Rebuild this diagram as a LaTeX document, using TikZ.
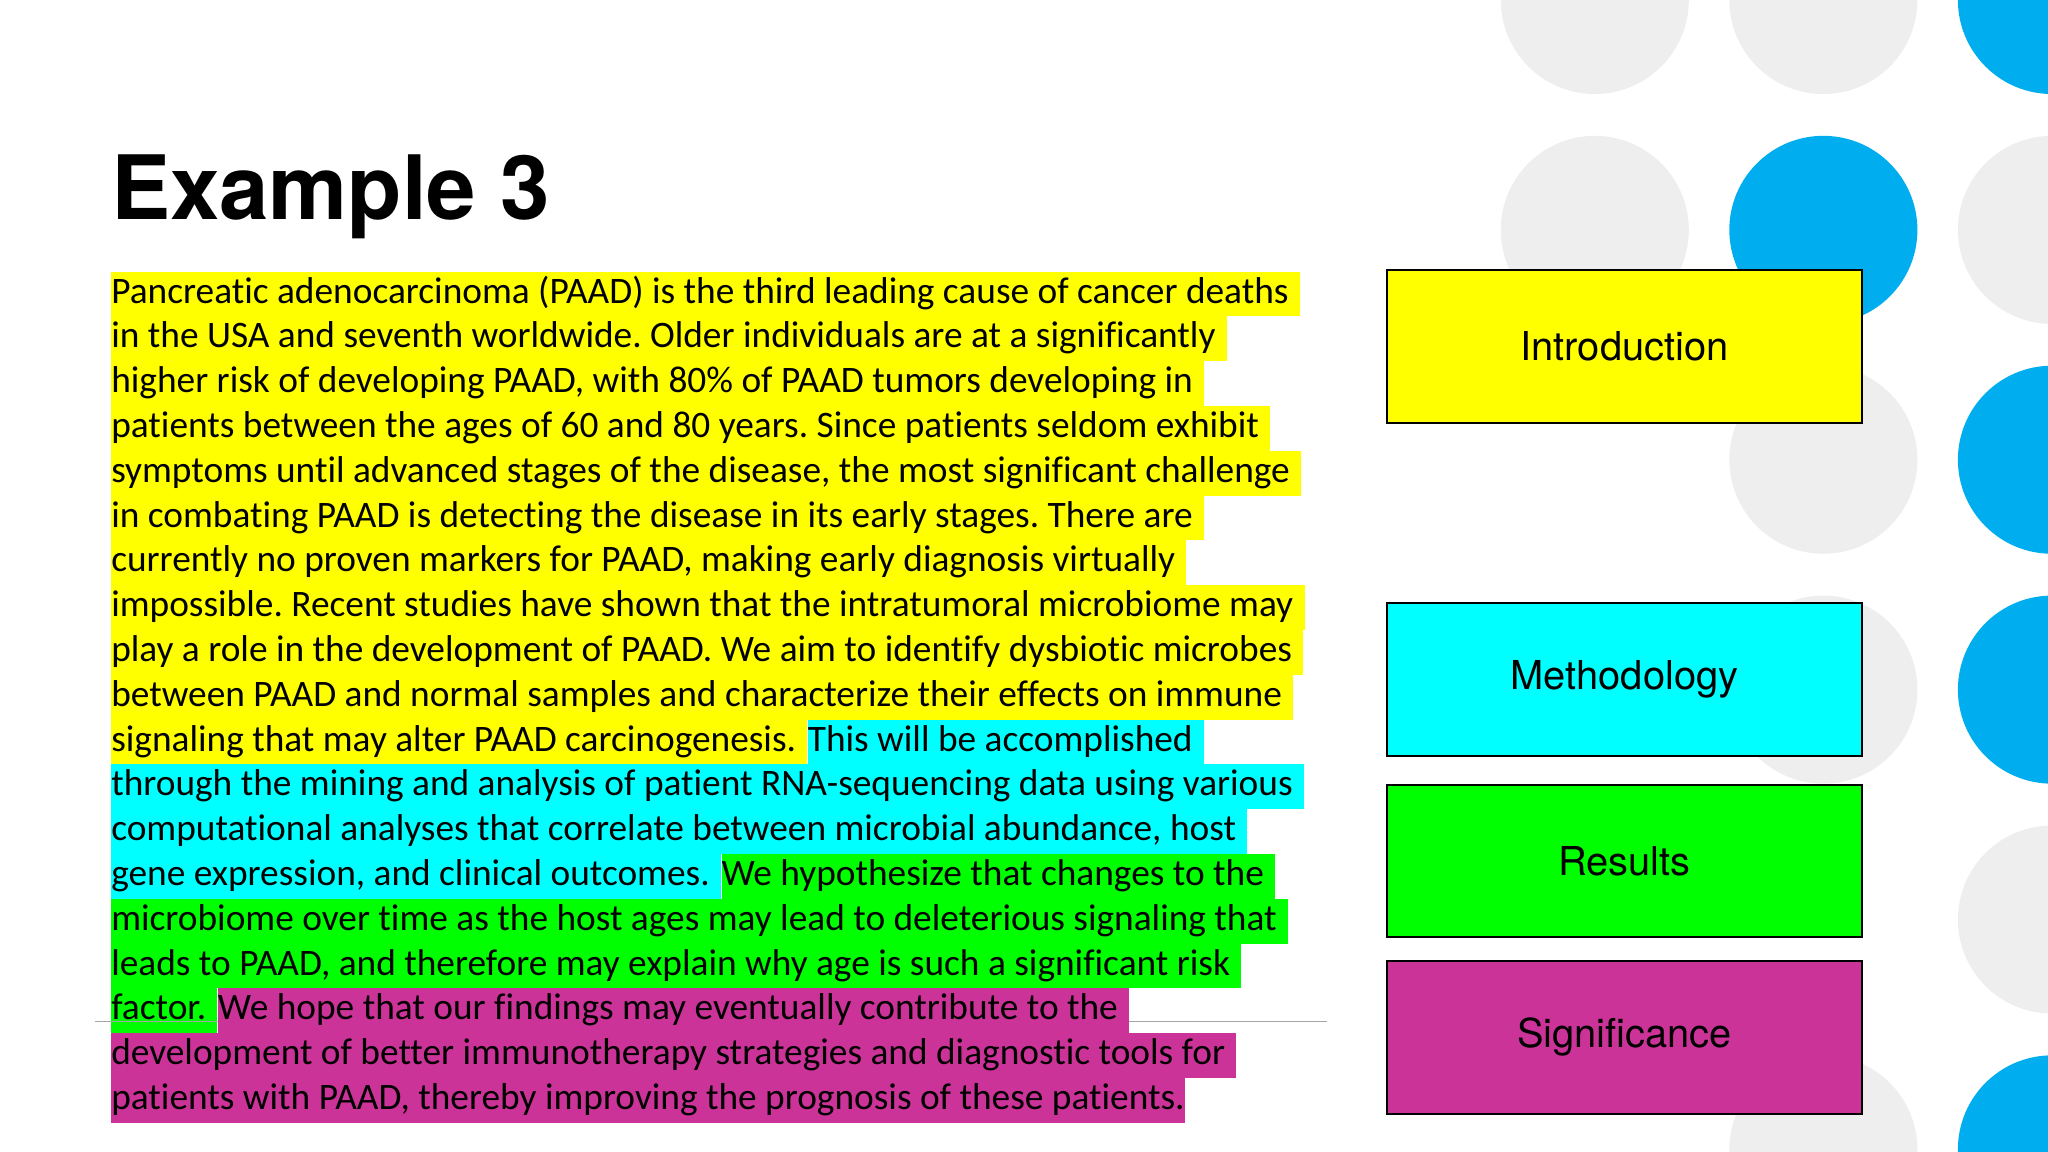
\documentclass[tikz,border=0pt]{standalone}
\usepackage{fontspec}
\setmainfont[Ligatures={NoCommon}]{Carlito}
\newfontfamily\heros{TeX Gyre Heros}
\definecolor{cgray}{HTML}{EEEEEE}
\definecolor{cblue}{HTML}{00AEEF}
\definecolor{cyel}{HTML}{FFFF00}
\definecolor{ccya}{HTML}{00FFFF}
\definecolor{cgrn}{HTML}{00FF00}
\definecolor{cmag}{HTML}{CC3399}
\frenchspacing
\newcommand{\tsp}{\hspace*{0.3em}}
\begin{document}
\begin{tikzpicture}[x=1pt,y=-1pt,
  ln/.style={inner sep=0pt, text height=24pt, text depth=10.3pt, font=\fontsize{28.6}{32}\selectfont, anchor=base west},
  box/.style={draw=black, line width=1.5pt, minimum width=364pt, minimum height=117pt, inner sep=0pt, font=\heros\fontsize{30.5}{34}\selectfont, anchor=north west}]
\useasboundingbox (0,0) rectangle (1568,882);
\foreach \x/\y/\c in {1221/0/cgray,1221/176/cgray,1396/0/cgray,1396/176/cblue,1396/352/cgray,1396/528/cgray,1396/880/cgray,1571/0/cblue,1571/176/cgray,1571/352/cblue,1571/528/cblue,1571/704/cgray,1571/880/cblue}
  \fill[\c] (\x,\y) circle (72);
\node[anchor=base west, inner sep=0pt, font=\heros\bfseries\fontsize{68}{74}\selectfont] (title) at (85,168) {Example 3};
\def\L{34.3}
\node[ln, fill=cyel] (l1) at (85,232) {Pancreatic adenocarcinoma (PAAD) is the third leading cause of cancer deaths\tsp};
\node[ln, fill=cyel] (l2) at (85,232+\L) {in the USA and seventh worldwide. Older individuals are at a significantly\tsp};
\node[ln, fill=cyel] (l3) at (85,232+2*\L) {higher risk of developing PAAD, with 80\% of PAAD tumors developing in\tsp};
\node[ln, fill=cyel] (l4) at (85,232+3*\L) {patients between the ages of 60 and 80 years. Since patients seldom exhibit\tsp};
\node[ln, fill=cyel] (l5) at (85,232+4*\L) {symptoms until advanced stages of the disease, the most significant challenge\tsp};
\node[ln, fill=cyel] (l6) at (85,232+5*\L) {in combating PAAD is detecting the disease in its early stages. There are\tsp};
\node[ln, fill=cyel] (l7) at (85,232+6*\L) {currently no proven markers for PAAD, making early diagnosis virtually\tsp};
\node[ln, fill=cyel] (l8) at (85,232+7*\L) {impossible. Recent studies have shown that the intratumoral microbiome may\tsp};
\node[ln, fill=cyel] (l9) at (85,232+8*\L) {play a role in the development of PAAD. We aim to identify dysbiotic microbes\tsp};
\node[ln, fill=cyel] (l10) at (85,232+9*\L) {between PAAD and normal samples and characterize their effects on immune\tsp};
\node[ln, fill=cyel] (l11) at (85,232+10*\L) {signaling that may alter PAAD carcinogenesis.\tsp};
\node[ln, fill=ccya] (l11b) at (l11.base east) {This will be accomplished\tsp};
\node[ln, fill=ccya] (l12) at (85,232+11*\L) {through the mining and analysis of patient RNA-sequencing data using various\tsp};
\node[ln, fill=ccya] (l13) at (85,232+12*\L) {computational analyses that correlate between microbial abundance, host\tsp};
\node[ln, fill=ccya] (l14) at (85,232+13*\L) {gene expression, and clinical outcomes.\tsp};
\node[ln, fill=cgrn] (l14b) at (l14.base east) {We hypothesize that changes to the\tsp};
\node[ln, fill=cgrn] (l15) at (85,232+14*\L) {microbiome over time as the host ages may lead to deleterious signaling that\tsp};
\node[ln, fill=cgrn] (l16) at (85,232+15*\L) {leads to PAAD, and therefore may explain why age is such a significant risk\tsp};
\node[ln, fill=cgrn] (l17) at (85,232+16*\L) {factor.\tsp};
\draw[gray!70, line width=1.2pt] (73,782) coordinate (g1) -- (1016,782) coordinate (g2);
\node[ln, fill=cmag] (l17b) at (l17.base east) {We hope that our findings may eventually contribute to the\tsp};
\node[ln, fill=cmag] (l18) at (85,232+17*\L) {development of better immunotherapy strategies and diagnostic tools for\tsp};
\node[ln, fill=cmag] (l19) at (85,232+18*\L) {patients with PAAD, thereby improving the prognosis of these patients.};
\node[box, fill=cyel] (intro) at (1061,206) {Introduction};
\node[box, fill=ccya] (meth) at (1061,461) {Methodology};
\node[box, fill=cgrn] (res) at (1061,600) {Results};
\node[box, fill=cmag] (sig) at (1061,735) {Significance};
\end{tikzpicture}
\end{document}
